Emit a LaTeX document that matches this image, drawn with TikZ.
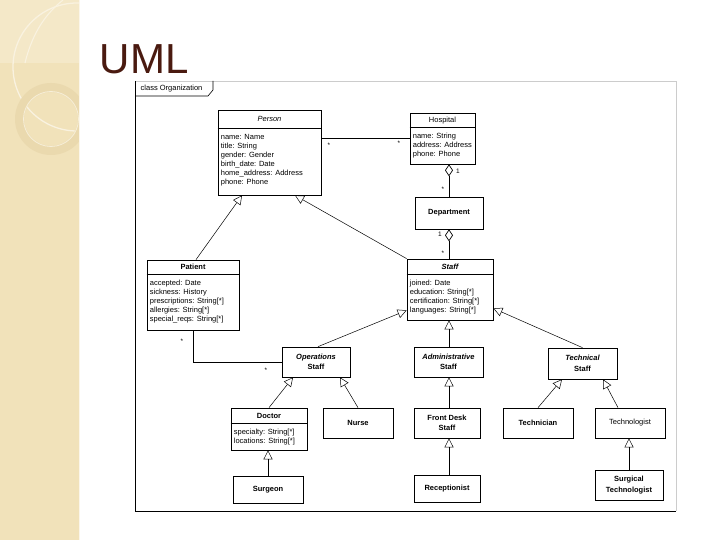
\documentclass[tikz,border=0pt]{standalone}
\usepackage{fontspec}
\setmainfont{Liberation Sans}
\usetikzlibrary{arrows.meta,calc}
\definecolor{stripbeige}{HTML}{F1E2BA}
\definecolor{stripligh}{HTML}{F4E8C8}
\definecolor{ringcol}{HTML}{EAD9AE}
\definecolor{titlebrown}{HTML}{4A1A10}
\newcommand\umlcls[7]{%
  \node[cls, minimum width=#3, minimum height=#4] (#1) at (#2) {};
  \node[nm] (#1-t) at ($(#1.north)+(0,#5/2)$) {#6};
  \draw[line width=0.7pt] ($(#1.north west)+(0,#5)$) -- ($(#1.north east)+(0,#5)$);
  \node[attr] (#1-a) at ($(#1.north west)+(3,#5+5)$) {#7};
}
\begin{document}
\begin{tikzpicture}[x=1pt,y=-1pt,
  cls/.style={draw, line width=0.7pt, fill=white, inner sep=0pt},
  nm/.style={font=\fontsize{7.5}{10.5}\selectfont\bfseries, align=center, inner sep=0pt},
  attr/.style={font=\fontsize{7.5}{9}\selectfont, align=left, anchor=north west, inner sep=0pt},
  gen/.style={-{Triangle[open,length=9pt,width=9pt]}, line width=0.5pt},
  assoc/.style={line width=0.7pt},
  agg/.style={{Diamond[open,length=12pt,width=8pt]}-, line width=0.7pt},
  mult/.style={font=\fontsize{6.5}{6.5}\selectfont, inner sep=0pt}]
\useasboundingbox (0,0) rectangle (720,540);
% slide background
\fill[white] (0,0) rectangle (720,540);
\fill[stripbeige] (0,0) rectangle (79,540);
\begin{scope}
  \clip (0,0) rectangle (79,540);
  \fill[stripligh] (0,0) rectangle (79,63);
  \draw[white!55!stripbeige, line width=1.3pt] (77,67) circle[radius=64];
  \draw[white!55!stripbeige, line width=1.1pt] (25,63) .. controls (33,30) and (48,12) .. (63,0);
  \fill[ringcol, even odd rule] (51,119) circle[radius=36] (51,119) circle[radius=27];
  \draw[white!45!stripbeige, line width=0.8pt] (51,119) circle[radius=27.5];
\end{scope}
\draw[white!70!stripbeige, line width=0.8pt] (79,0) -- (79,540);
% title
\node[font=\fontsize{42}{42}\selectfont, text=titlebrown, anchor=base west, inner sep=0pt] (title) at (99.5,73.5) {UML};
% diagram frame
\draw[black!20, line width=0.7pt] (135,81) -- (676,81) -- (676,511);
\draw[black, line width=0.9pt] (135,81) -- (135,511) -- (676,511);
\draw[line width=0.6pt] (135,96) -- (208,96) -- (213,90) -- (213,81);
\node[font=\fontsize{7.5}{9}\selectfont, inner sep=0pt, anchor=west] (frametab) at (140.5,88.5) {class Organization};
% classes with attributes
\umlcls{person}{269.5,152.5}{103}{85}{19}{\mdseries\itshape Person}{name: Name\\title: String\\gender: Gender\\birth\_date: Date\\home\_address: Address\\phone: Phone}
\umlcls{hospital}{442.5,138.5}{65}{51}{15}{\mdseries Hospital}{name: String\\address: Address\\phone: Phone}
\umlcls{staff}{450,289.5}{86}{61}{16}{\itshape Staff}{joined: Date\\education: String[*]\\certification: String[*]\\languages: String[*]}
\umlcls{patient}{193,295}{92}{70}{15}{Patient}{accepted: Date\\sickness: History\\prescriptions: String[*]\\allergies: String[*]\\special\_reqs: String[*]}
\umlcls{doctor}{269,429}{76}{42}{16}{Doctor}{specialty: String[*]\\locations: String[*]}
% simple classes
\node[cls, nm, minimum width=68, minimum height=32] (dept) at (449,213) {Department};
\node[cls, nm, minimum width=68, minimum height=30] (ops) at (316,362) {\itshape Operations\\Staff};
\node[cls, nm, minimum width=69, minimum height=30] (admin) at (448.5,362) {\itshape Administrative\\Staff};
\node[cls, nm, minimum width=69, minimum height=31] (tech) at (582.5,363.5) {\itshape Technical\\Staff};
\node[cls, nm, minimum width=70, minimum height=30] (nurse) at (358,423) {Nurse};
\node[cls, nm, minimum width=70, minimum height=27] (surgeon) at (268,489.5) {Surgeon};
\node[cls, nm, minimum width=66, minimum height=30] (front) at (447,423) {Front Desk\\Staff};
\node[cls, nm, minimum width=66, minimum height=27] (recep) at (447,488.5) {Receptionist};
\node[cls, nm, minimum width=70, minimum height=30] (technician) at (538,423) {Technician};
\node[cls, nm, minimum width=70, minimum height=30] (technologist) at (630,423) {\mdseries Technologist};
\node[cls, nm, minimum width=68, minimum height=30] (surgtech) at (629,485) {Surgical\\Technologist};
% helper coordinates
\coordinate (ax) at (449,0);
\coordinate (ph) at (365,138);
% associations
\draw[assoc] (person.east |- ph) -- (hospital.west |- ph);
\node[mult] (m1) at (329,145) {*};
\node[mult] (m2) at (399,143) {*};
\draw[agg] (hospital.south -| ax) -- (dept.north -| ax);
\node[mult] (m3) at (458,171) {1};
\node[mult] (m4) at (443,189) {*};
\draw[agg] (dept.south -| ax) -- (staff.north -| ax);
\node[mult] (m5) at (440,234) {1};
\node[mult] (m6) at (443,253) {*};
\draw[assoc] (patient.south) |- (ops.west);
\node[mult] (m7) at (182,341) {*};
\node[mult] (m8) at (266,370) {*};
% generalizations
\draw[gen] ($(patient.north)+(3,0)$) -- ($(person.south)+(-27.5,0)$);
\draw[gen] (staff.north west) -- ($(person.south)+(25.5,0)$);
\draw[gen] ($(ops.north)+(2,0)$) -- ($(staff.south west)+(0,-10)$);
\draw[gen] (admin.north -| ax) -- (staff.south -| ax);
\draw[gen] (tech.north) -- ($(staff.south east)+(0,-12)$);
\draw[gen] (doctor.north) -- ($(ops.south)+(-23,0)$);
\draw[gen] (nurse.north) -- ($(ops.south)+(24,0)$);
\draw[gen] (surgeon.north) -- (doctor.south -| surgeon.north);
\draw[gen] (front.north -| ax) -- (admin.south -| ax);
\draw[gen] (recep.north -| ax) -- (front.south -| ax);
\draw[gen] (technician.north) -- ($(tech.south)+(-20.5,0)$);
\draw[gen] ($(technologist.north)+(-12,0)$) -- ($(tech.south)+(20.5,0)$);
\draw[gen] (surgtech.north) -- (technologist.south -| surgtech.north);
\end{tikzpicture}
\end{document}
